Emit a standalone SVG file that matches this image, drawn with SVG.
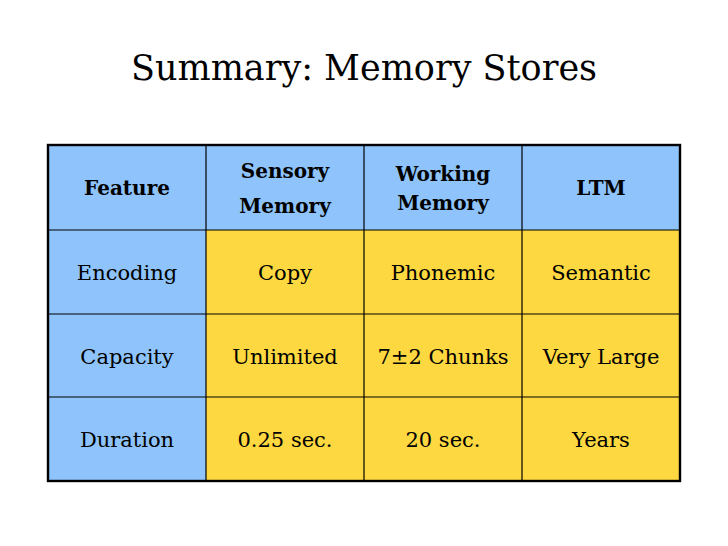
<svg xmlns="http://www.w3.org/2000/svg" width="728" height="546" viewBox="0 0 728 546">
<style>
text{font-family:"DejaVu Serif","Liberation Serif",serif;fill:#000;text-anchor:middle}
.t{font-size:35px}
.h{font-size:20px;font-weight:bold}
.c{font-size:21px}
.blue{fill:#8EC4FB}
.yel{fill:#FDD840}
.ln{stroke:#000;stroke-width:1.2;fill:none}
</style>
<rect width="728" height="546" fill="#fff"/>
<text class="t" x="364" y="80">Summary: Memory Stores</text>
<g id="cells">
<rect class="blue" x="48" y="145" width="632" height="85"/>
<rect class="blue" x="48" y="230" width="158" height="251"/>
<rect class="yel" x="206" y="230" width="474" height="251"/>
</g>
<g id="grid">
<line class="ln" x1="206" y1="145" x2="206" y2="481"/>
<line class="ln" x1="364" y1="145" x2="364" y2="481"/>
<line class="ln" x1="522" y1="145" x2="522" y2="481"/>
<line class="ln" x1="48" y1="230" x2="680" y2="230"/>
<line class="ln" x1="48" y1="314" x2="680" y2="314"/>
<line class="ln" x1="48" y1="397" x2="680" y2="397"/>
<rect x="48" y="145" width="632" height="336" fill="none" stroke="#000" stroke-width="2.4"/>
</g>
<g id="header">
<text class="h" x="127" y="195">Feature</text>
<text class="h" x="285" y="178">Sensory</text>
<text class="h" x="285" y="213">Memory</text>
<text class="h" x="443" y="181">Working</text>
<text class="h" x="443" y="210">Memory</text>
<text class="h" x="601" y="195">LTM</text>
</g>
<g id="row-encoding">
<text class="c" x="127" y="280">Encoding</text>
<text class="c" x="285" y="280">Copy</text>
<text class="c" x="443" y="280">Phonemic</text>
<text class="c" x="601" y="280">Semantic</text>
</g>
<g id="row-capacity">
<text class="c" x="127" y="364">Capacity</text>
<text class="c" x="285" y="364">Unlimited</text>
<text class="c" x="443" y="364">7±2 Chunks</text>
<text class="c" x="601" y="364">Very Large</text>
</g>
<g id="row-duration">
<text class="c" x="127" y="447">Duration</text>
<text class="c" x="285" y="447">0.25 sec.</text>
<text class="c" x="443" y="447">20 sec.</text>
<text class="c" x="601" y="447">Years</text>
</g>
</svg>
